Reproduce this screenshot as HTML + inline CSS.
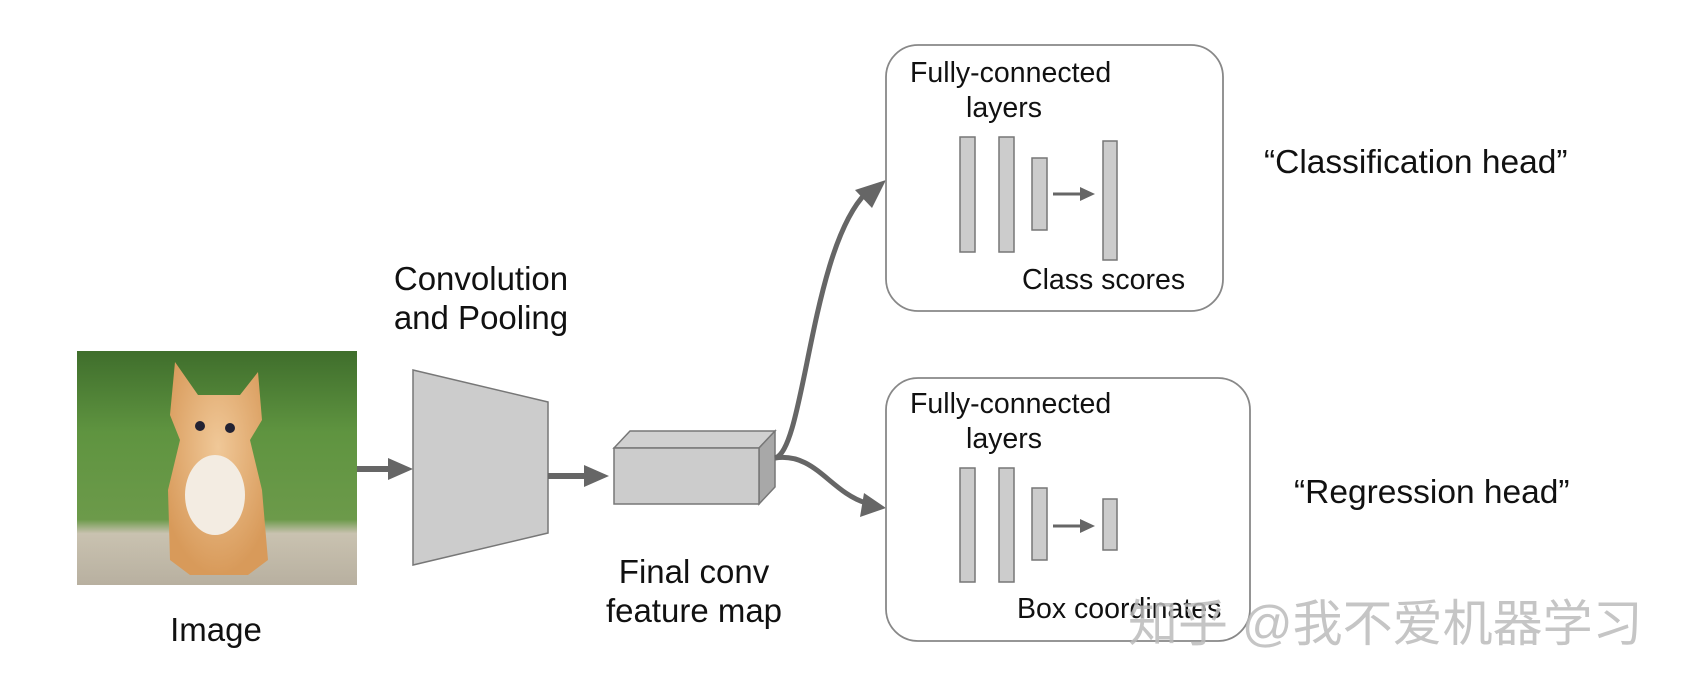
<!DOCTYPE html>
<html><head><meta charset="utf-8"><style>
html,body{margin:0;padding:0;background:#fff;}
body{width:1682px;height:692px;overflow:hidden;position:relative;}
svg{position:absolute;left:0;top:0;}
text{font-family:"Liberation Sans",Arial,sans-serif;fill:#111;}
</style></head><body>
<svg width="1682" height="692" viewBox="0 0 1682 692" xmlns="http://www.w3.org/2000/svg">
<defs>
<linearGradient id="bg" x1="0" y1="0" x2="0" y2="1">
<stop offset="0" stop-color="#3f6e2c"/><stop offset="0.35" stop-color="#5f9440"/><stop offset="0.72" stop-color="#6c9a4a"/><stop offset="0.78" stop-color="#c9c2b0"/><stop offset="1" stop-color="#b8b0a0"/>
</linearGradient>
<radialGradient id="fur" cx="0.5" cy="0.4" r="0.6"><stop offset="0" stop-color="#f0c898"/><stop offset="1" stop-color="#d89a5a"/></radialGradient>
</defs>
<rect x="77" y="351" width="280" height="234" fill="url(#bg)"/>
<path d="M175 362 L198 395 L240 395 L258 372 L262 420 L250 440 L262 490 L268 560 L248 575 L190 575 L170 560 L168 490 L180 440 L170 415 Z" fill="url(#fur)"/>
<ellipse cx="215" cy="495" rx="30" ry="40" fill="#f3ece2"/>
<circle cx="200" cy="426" r="5" fill="#223"/><circle cx="230" cy="428" r="5" fill="#223"/>
<line x1="357" y1="469" x2="390" y2="469" stroke="#666" stroke-width="6"/>
<polygon points="388,458 413,469 388,480" fill="#666"/>
<polygon points="413,370 548,402 548,533 413,565" fill="#cccccc" stroke="#777" stroke-width="1.5"/>
<line x1="548" y1="476" x2="586" y2="476" stroke="#666" stroke-width="6"/>
<polygon points="584,465 609,476 584,487" fill="#666"/>
<polygon points="614,448 630,431 775,431 759,448" fill="#d0d0d0" stroke="#777" stroke-width="1.5"/>
<polygon points="759,448 775,431 775,487 759,504" fill="#a8a8a8" stroke="#777" stroke-width="1.5"/>
<rect x="614" y="448" width="145" height="56" fill="#cccccc" stroke="#777" stroke-width="1.5"/>
<path d="M775 458 C805 450 810 250 866 193" fill="none" stroke="#666" stroke-width="5"/>
<polygon points="886,180 872,208 855,190" fill="#666"/>
<path d="M775 458 C815 452 830 492 866 503" fill="none" stroke="#666" stroke-width="5"/>
<polygon points="886,508 860,517 864,493" fill="#666"/>
<rect x="886" y="45" width="337" height="266" rx="32" fill="none" stroke="#888" stroke-width="1.8"/>
<rect x="886" y="378" width="364" height="263" rx="32" fill="none" stroke="#888" stroke-width="1.8"/>
<g fill="#cccccc" stroke="#777" stroke-width="1.5">
<rect x="960" y="137" width="15" height="115"/><rect x="999" y="137" width="15" height="115"/>
<rect x="1032" y="158" width="15" height="72"/><rect x="1103" y="141" width="14" height="119"/>
<rect x="960" y="468" width="15" height="114"/><rect x="999" y="468" width="15" height="114"/>
<rect x="1032" y="488" width="15" height="72"/><rect x="1103" y="499" width="14" height="51"/>
</g>
<line x1="1053" y1="194" x2="1082" y2="194" stroke="#666" stroke-width="3"/>
<polygon points="1080,187 1095,194 1080,201" fill="#666"/>
<line x1="1053" y1="526" x2="1082" y2="526" stroke="#666" stroke-width="3"/>
<polygon points="1080,519 1095,526 1080,533" fill="#666"/>
<g font-size="28.5">
<text x="910" y="82">Fully-connected</text><text x="1004" y="117" text-anchor="middle">layers</text>
<text x="1022" y="289">Class scores</text>
<text x="910" y="413">Fully-connected</text><text x="1004" y="448" text-anchor="middle">layers</text>
<text x="1017" y="618">Box coordinates</text>
</g>
<g font-size="33" text-anchor="middle">
<text x="481" y="290">Convolution</text><text x="481" y="329">and Pooling</text>
<text x="694" y="583">Final conv</text><text x="694" y="622">feature map</text>
<text x="216" y="641">Image</text>
</g>
<g font-size="33.5">
<text x="1264" y="173">“Classification head”</text>
<text x="1294" y="503">“Regression head”</text>
</g>
<text x="1128" y="641" font-size="50" style="font-family:'Liberation Sans','Noto Sans CJK SC',sans-serif;fill:#bbb;opacity:0.85">知乎 @我不爱机器学习</text>
</svg>
</body></html>
